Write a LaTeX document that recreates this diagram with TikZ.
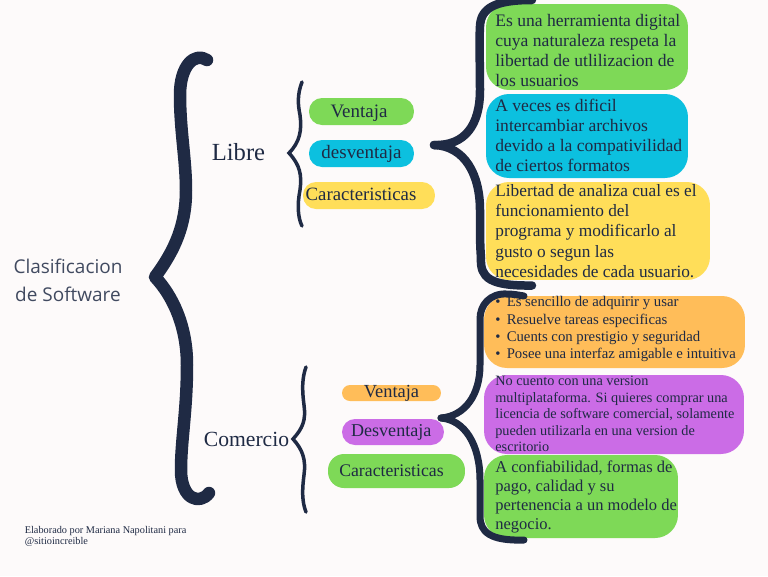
\documentclass[tikz,border=0pt]{standalone}
\usepackage{fontspec}
\setmainfont{Liberation Serif}
\newfontfamily\titlefont{Open Sans}

\definecolor{paper}{HTML}{FDFAFA}
\definecolor{navy}{HTML}{1F2A44}
\definecolor{pillgreen}{HTML}{7ED957}
\definecolor{pillblue}{HTML}{0CC0DF}
\definecolor{pillyellow}{HTML}{FFDE59}
\definecolor{pillorange}{HTML}{FFBD59}
\definecolor{pillpurple}{HTML}{CB6CE6}

\tikzset{
    pill/.style={inner sep=0pt, rounded corners=0.26cm, text=navy, text height=7pt, text depth=1.8pt},
    infobox/.style={inner sep=0pt, rounded corners=0.46cm},
    infotext/.style={anchor=west, align=left, inner sep=0pt, text=navy},
    bigbrace/.style={draw=navy, line width=0.25cm, line cap=round, line join=round},
    midbrace/.style={draw=navy, line width=0.17cm, line cap=round, line join=round},
    thinbrace/.style={draw=navy, line width=0.07cm, line cap=round, line join=miter}
}

\begin{document}
\begin{tikzpicture}[x=0.02cm, y=-0.02cm]
            % Background
            \fill[paper] (0,0) rectangle (768,576);
            \useasboundingbox (0,0) rectangle (768,576);

            % Root text
            \node[text=navy!85, align=center, font=\titlefont\fontsize{10.8}{16}\selectfont] (root) at (68,280) {Clasificacion\\de Software};

            % Large brace
            \coordinate (bigtip) at (155,277);
            \draw[bigbrace] (207,60) .. controls (195,52) and (180,65) .. (180,95) .. controls (180,130) and (186,160) .. (186,190) .. controls (186,225) and (175,250) .. (bigtip) .. controls (172,295) and (187,325) .. (187,365) .. controls (187,410) and (181,440) .. (181,470) .. controls (181,500) and (200,505) .. (209,493);

            % Second stage nodes
            \node[text=navy, font=\fontsize{14}{16}\selectfont] (libre) at (238.5,152) {Libre};
            \node[text=navy, font=\fontsize{12.3}{14}\selectfont] (comercio) at (246.5,439) {Comercio};

            % Small braces
            \coordinate (libretip) at (289,153);
            \draw[thinbrace] (302,82) .. controls (297,95) and (298,105) .. (300,115) .. controls (302,130) and (300,142) .. (libretip) .. controls (300,165) and (302,175) .. (300,190) .. controls (297,205) and (298,218) .. (302,226);
            \coordinate (comerciotip) at (293,439);
            \draw[thinbrace] (306,367) .. controls (302,378) and (302,390) .. (304,405) .. controls (306,420) and (303,428) .. (comerciotip) .. controls (303,450) and (306,460) .. (304,475) .. controls (302,490) and (302,502) .. (306,512);

            % Third stage nodes, Libre
            \node[pill, fill=pillgreen, minimum width=2.1cm, minimum height=0.54cm, text height=8.7pt, font=\fontsize{10.8}{12}\selectfont] (ventajaa) at (361.5,111.5) {Ventaja\kern 2.8pt};
            \node[pill, fill=pillblue, minimum width=2.1cm, minimum height=0.54cm, font=\fontsize{10.8}{12}\selectfont] (desventajaa) at (361.5,153.5) {desventaja};
            \node[pill, fill=pillyellow, minimum width=2.64cm, minimum height=0.54cm, font=\fontsize{10.7}{12}\selectfont] (caracta) at (369,195.5) {Caracteristicas\kern 9.1pt};

            % Third stage nodes, Comercio
            \node[pill, fill=pillorange, minimum width=1.98cm, minimum height=0.32cm, rounded corners=0.16cm, font=\fontsize{10.5}{12}\selectfont] (ventajab) at (391.5,393) {Ventaja};
            \node[pill, fill=pillpurple, minimum width=2.04cm, minimum height=0.52cm, font=\fontsize{10.3}{12}\selectfont] (desventajab) at (393,432) {Desventaja\kern 2pt};
            \node[pill, fill=pillgreen, minimum width=2.74cm, minimum height=0.68cm, rounded corners=0.32cm, text height=8pt, font=\fontsize{10.1}{12}\selectfont] (caractb) at (396.5,471) {Caracteristicas\kern 5.7pt};

            % Fourth stage boxes, Libre
            \node[infobox, fill=pillgreen, minimum width=4.04cm, minimum height=1.72cm] (boxa) at (587,47) {};
            \node[infobox, fill=pillblue, minimum width=4.04cm, minimum height=1.68cm] (boxb) at (587,136) {};
            \node[infobox, fill=pillyellow, minimum width=4.48cm, minimum height=1.96cm] (boxc) at (598,231) {};

            % Fourth stage boxes, Comercio
            \node[infobox, fill=pillorange, minimum width=5.22cm, minimum height=1.44cm] (boxd) at (614.5,332) {};
            \node[infobox, fill=pillpurple, minimum width=5.2cm, minimum height=1.58cm] (boxe) at (614,414.5) {};
            \node[infobox, fill=pillgreen, minimum width=3.88cm, minimum height=1.66cm] (boxf) at (581,496.5) {};

            % Right braces
            \coordinate (upperstart) at (434,145);
            \draw[midbrace] (upperstart) .. controls (465,146) and (480,125) .. (480,90) .. controls (480,60) and (479,45) .. (480,26) .. controls (481,8) and (495,0) .. (532,0);
            \draw[midbrace] (upperstart) .. controls (465,146) and (480,175) .. (480,210) .. controls (480,235) and (480,245) .. (481,258) .. controls (480,278) and (490,286) .. (532,285.5);
            \coordinate (lowerstart) at (441,418);
            \draw[midbrace, line width=0.14cm] (lowerstart) .. controls (465,416) and (480,395) .. (480,365) .. controls (480,345) and (480,335) .. (480,319) .. controls (480,305) and (490,293) .. (507,294) .. controls (513,294) and (518,295) .. (524,296);
            \draw[midbrace, line width=0.14cm] (lowerstart) .. controls (465,420) and (480,445) .. (480,480) .. controls (480,495) and (480,505) .. (480,516) .. controls (480,532) and (490,541) .. (524,540);

            % Box texts, Libre
            \node[infotext, font=\fontsize{10}{11.5}\selectfont] (texta) at (495,50.5) {Es una herramienta digital\\cuya naturaleza respeta la\\libertad de utlilizacion de\\los usuarios};
            \node[infotext, font=\fontsize{10}{11.5}\selectfont] (textb) at (495,135.5) {A veces es dificil\\intercambiar archivos\\devido a la compativilidad\\de ciertos formatos};
            \node[infotext, font=\fontsize{9.85}{11.5}\selectfont] (textc) at (495,231) {Libertad de analiza cual es el\\funcionamiento del\\programa y modificarlo al\\gusto o segun las\\necesidades de cada usuario.};

            % Box texts, Comercio
            \node[infotext, font=\fontsize{8.4}{9.7}\selectfont] (textd) at (495,329) {\makebox[6.5pt][l]{\textbullet}Es sencillo de adquirir y usar\\\makebox[6.5pt][l]{\textbullet}Resuelve tareas especificas\\\makebox[6.5pt][l]{\textbullet}Cuents con prestigio y seguridad\\\makebox[6.5pt][l]{\textbullet}Posee una interfaz amigable e intuitiva};
            \node[infotext, font=\fontsize{8.13}{9.4}\selectfont] (texte) at (495,414) {No cuento con una version\\multiplataforma. Si quieres comprar una\\licencia de software comercial, solamente\\pueden utilizarla en una version de\\escritorio};
            \node[infotext, font=\fontsize{9.4}{10.9}\selectfont] (textf) at (495,497) {A confiabilidad, formas de\\pago, calidad y su\\pertenencia a un modelo de\\negocio.};

            % Footer
            \node[infotext, font=\fontsize{5.85}{6.3}\selectfont] (credit) at (24.5,536) {Elaborado por Mariana Napolitani para\\@sitioincreible};
\end{tikzpicture}
\end{document}
